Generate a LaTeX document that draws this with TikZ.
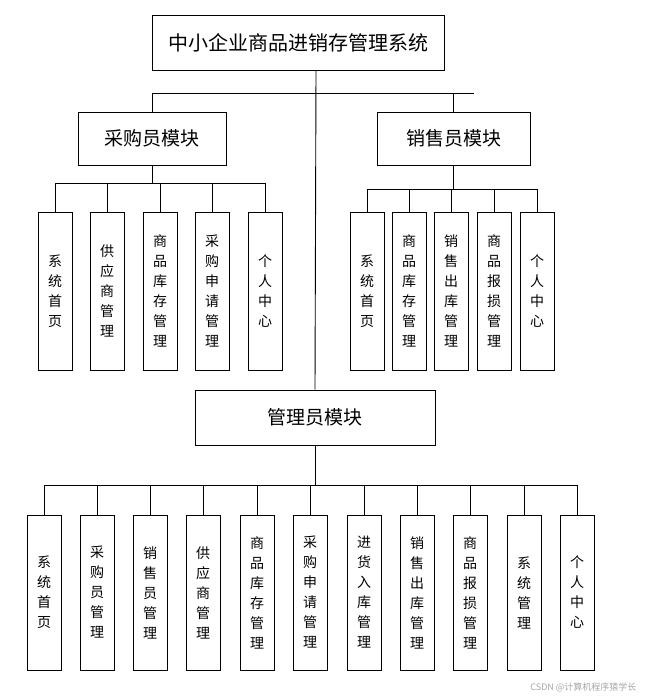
\documentclass[tikz,border=0pt]{standalone}
\usepackage{fontspec}
\setmainfont{Noto Sans CJK SC}
\newcommand\vt[1]{\begingroup\def\,{\\}#1\endgroup}
\begin{document}
\begin{tikzpicture}[x=1pt,y=-1pt,
  bx/.style={draw,line width=0.9pt,inner sep=0pt},
  ln/.style={line width=0.9pt},
  small/.style={font=\fontsize{14}{20}\selectfont,align=center}]
\useasboundingbox (0,0) rectangle (645,697);
\node[bx,minimum width=292,minimum height=55,font=\fontsize{20}{24}\selectfont] (top) at (298,42.5) {中小企业商品进销存管理系统};
\node[bx,minimum width=148,minimum height=53,font=\fontsize{19}{24}\selectfont] (cg) at (152,138.5) {采购员模块};
\node[bx,minimum width=153,minimum height=53,font=\fontsize{19}{24}\selectfont] (xs) at (453.5,138.5) {销售员模块};
\node[bx,minimum width=240,minimum height=55,font=\fontsize{19}{24}\selectfont] (gl) at (315,417.5) {管理员模块};
\draw[ln] (316,70) -- (gl.north);
\draw[ln] (152,93) -- (474,93);
\draw[ln] (152,93) -- (cg.north);
\draw[ln] (453.5,93) -- (xs.north);
% purchase children
\foreach \x/\t [count=\i] in {55/系\\统\\首\\页,107/供\\应\\商\\管\\理,160/商\\品\\库\\存\\管\\理,212/采\\购\\申\\请\\管\\理,265/个\\人\\中\\心}{
  \node[bx,small,minimum width=34,minimum height=158] (a\i) at (\x,291) {\t};
  \draw[ln] (\x,183) -- (a\i.north);
}
\draw[ln] (55,183) -- (265,183);
\draw[ln] (cg.south) -- (152,183);
% sales children
\foreach \x/\t [count=\i] in {367/系\\统\\首\\页,409/商\\品\\库\\存\\管\\理,451/销\\售\\出\\库\\管\\理,494/商\\品\\报\\损\\管\\理,537/个\\人\\中\\心}{
  \node[bx,small,minimum width=34,minimum height=158] (b\i) at (\x,291) {\t};
  \draw[ln] (\x,189) -- (b\i.north);
}
\draw[ln] (367,189) -- (537,189);
\draw[ln] (xs.south) -- (453.5,189);
% admin children
\foreach \x/\t [count=\i] in {44/系\\统\\首\\页,97/采\\购\\员\\管\\理,150/销\\售\\员\\管\\理,203/供\\应\\商\\管\\理,257/商\\品\\库\\存\\管\\理,310/采\\购\\申\\请\\管\\理,364/进\\货\\入\\库\\管\\理,417/销\\售\\出\\库\\管\\理,470/商\\品\\报\\损\\管\\理,524/系\\统\\管\\理,577/个\\人\\中\\心}{
  \node[bx,small,minimum width=34,minimum height=155] (c\i) at (\x,592.5) {\t};
  \draw[ln] (\x,485) -- (c\i.north);
}
\draw[ln] (44,485) -- (577,485);
\draw[ln] (gl.south) -- (315,485);
\node[font=\fontsize{9}{10}\selectfont,text=gray!70,anchor=east] (wm) at (640,687) {CSDN @计算机程序猿学长};
\end{tikzpicture}
\end{document}
